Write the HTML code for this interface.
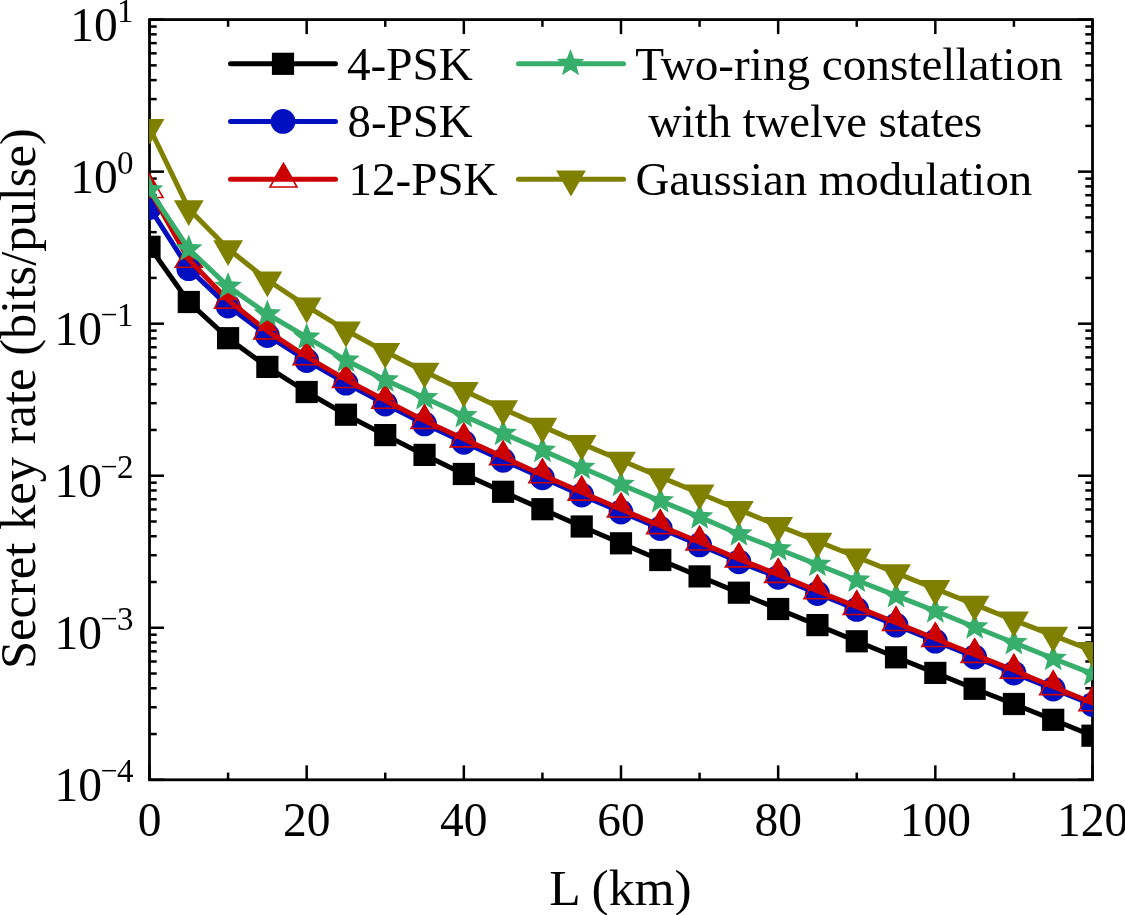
<!DOCTYPE html>
<html><head><meta charset="utf-8"><style>
html,body{margin:0;padding:0;background:#fff;width:1125px;height:915px;overflow:hidden;}
svg{display:block;font-family:"Liberation Serif", serif;will-change:transform;}
</style></head><body>
<svg width="1125" height="915" viewBox="0 0 1125 915">
<rect width="1125" height="915" fill="#fff"/>
<defs><clipPath id="cp"><rect x="149.10" y="19.20" width="943.80" height="761.00"/></clipPath></defs>
<g stroke="#000" stroke-width="2.50"><line x1="149.50" y1="779.80" x2="164.00" y2="779.80"/><line x1="1092.50" y1="779.80" x2="1078.00" y2="779.80"/><line x1="149.50" y1="734.03" x2="156.70" y2="734.03"/><line x1="1092.50" y1="734.03" x2="1085.30" y2="734.03"/><line x1="149.50" y1="707.26" x2="156.70" y2="707.26"/><line x1="1092.50" y1="707.26" x2="1085.30" y2="707.26"/><line x1="149.50" y1="688.26" x2="156.70" y2="688.26"/><line x1="1092.50" y1="688.26" x2="1085.30" y2="688.26"/><line x1="149.50" y1="673.53" x2="156.70" y2="673.53"/><line x1="1092.50" y1="673.53" x2="1085.30" y2="673.53"/><line x1="149.50" y1="661.49" x2="156.70" y2="661.49"/><line x1="1092.50" y1="661.49" x2="1085.30" y2="661.49"/><line x1="149.50" y1="651.31" x2="156.70" y2="651.31"/><line x1="1092.50" y1="651.31" x2="1085.30" y2="651.31"/><line x1="149.50" y1="642.49" x2="156.70" y2="642.49"/><line x1="1092.50" y1="642.49" x2="1085.30" y2="642.49"/><line x1="149.50" y1="634.72" x2="156.70" y2="634.72"/><line x1="1092.50" y1="634.72" x2="1085.30" y2="634.72"/><line x1="149.50" y1="627.76" x2="164.00" y2="627.76"/><line x1="1092.50" y1="627.76" x2="1078.00" y2="627.76"/><line x1="149.50" y1="581.99" x2="156.70" y2="581.99"/><line x1="1092.50" y1="581.99" x2="1085.30" y2="581.99"/><line x1="149.50" y1="555.22" x2="156.70" y2="555.22"/><line x1="1092.50" y1="555.22" x2="1085.30" y2="555.22"/><line x1="149.50" y1="536.22" x2="156.70" y2="536.22"/><line x1="1092.50" y1="536.22" x2="1085.30" y2="536.22"/><line x1="149.50" y1="521.49" x2="156.70" y2="521.49"/><line x1="1092.50" y1="521.49" x2="1085.30" y2="521.49"/><line x1="149.50" y1="509.45" x2="156.70" y2="509.45"/><line x1="1092.50" y1="509.45" x2="1085.30" y2="509.45"/><line x1="149.50" y1="499.27" x2="156.70" y2="499.27"/><line x1="1092.50" y1="499.27" x2="1085.30" y2="499.27"/><line x1="149.50" y1="490.45" x2="156.70" y2="490.45"/><line x1="1092.50" y1="490.45" x2="1085.30" y2="490.45"/><line x1="149.50" y1="482.68" x2="156.70" y2="482.68"/><line x1="1092.50" y1="482.68" x2="1085.30" y2="482.68"/><line x1="149.50" y1="475.72" x2="164.00" y2="475.72"/><line x1="1092.50" y1="475.72" x2="1078.00" y2="475.72"/><line x1="149.50" y1="429.95" x2="156.70" y2="429.95"/><line x1="1092.50" y1="429.95" x2="1085.30" y2="429.95"/><line x1="149.50" y1="403.18" x2="156.70" y2="403.18"/><line x1="1092.50" y1="403.18" x2="1085.30" y2="403.18"/><line x1="149.50" y1="384.18" x2="156.70" y2="384.18"/><line x1="1092.50" y1="384.18" x2="1085.30" y2="384.18"/><line x1="149.50" y1="369.45" x2="156.70" y2="369.45"/><line x1="1092.50" y1="369.45" x2="1085.30" y2="369.45"/><line x1="149.50" y1="357.41" x2="156.70" y2="357.41"/><line x1="1092.50" y1="357.41" x2="1085.30" y2="357.41"/><line x1="149.50" y1="347.23" x2="156.70" y2="347.23"/><line x1="1092.50" y1="347.23" x2="1085.30" y2="347.23"/><line x1="149.50" y1="338.41" x2="156.70" y2="338.41"/><line x1="1092.50" y1="338.41" x2="1085.30" y2="338.41"/><line x1="149.50" y1="330.64" x2="156.70" y2="330.64"/><line x1="1092.50" y1="330.64" x2="1085.30" y2="330.64"/><line x1="149.50" y1="323.68" x2="164.00" y2="323.68"/><line x1="1092.50" y1="323.68" x2="1078.00" y2="323.68"/><line x1="149.50" y1="277.91" x2="156.70" y2="277.91"/><line x1="1092.50" y1="277.91" x2="1085.30" y2="277.91"/><line x1="149.50" y1="251.14" x2="156.70" y2="251.14"/><line x1="1092.50" y1="251.14" x2="1085.30" y2="251.14"/><line x1="149.50" y1="232.14" x2="156.70" y2="232.14"/><line x1="1092.50" y1="232.14" x2="1085.30" y2="232.14"/><line x1="149.50" y1="217.41" x2="156.70" y2="217.41"/><line x1="1092.50" y1="217.41" x2="1085.30" y2="217.41"/><line x1="149.50" y1="205.37" x2="156.70" y2="205.37"/><line x1="1092.50" y1="205.37" x2="1085.30" y2="205.37"/><line x1="149.50" y1="195.19" x2="156.70" y2="195.19"/><line x1="1092.50" y1="195.19" x2="1085.30" y2="195.19"/><line x1="149.50" y1="186.37" x2="156.70" y2="186.37"/><line x1="1092.50" y1="186.37" x2="1085.30" y2="186.37"/><line x1="149.50" y1="178.60" x2="156.70" y2="178.60"/><line x1="1092.50" y1="178.60" x2="1085.30" y2="178.60"/><line x1="149.50" y1="171.64" x2="164.00" y2="171.64"/><line x1="1092.50" y1="171.64" x2="1078.00" y2="171.64"/><line x1="149.50" y1="125.87" x2="156.70" y2="125.87"/><line x1="1092.50" y1="125.87" x2="1085.30" y2="125.87"/><line x1="149.50" y1="99.10" x2="156.70" y2="99.10"/><line x1="1092.50" y1="99.10" x2="1085.30" y2="99.10"/><line x1="149.50" y1="80.10" x2="156.70" y2="80.10"/><line x1="1092.50" y1="80.10" x2="1085.30" y2="80.10"/><line x1="149.50" y1="65.37" x2="156.70" y2="65.37"/><line x1="1092.50" y1="65.37" x2="1085.30" y2="65.37"/><line x1="149.50" y1="53.33" x2="156.70" y2="53.33"/><line x1="1092.50" y1="53.33" x2="1085.30" y2="53.33"/><line x1="149.50" y1="43.15" x2="156.70" y2="43.15"/><line x1="1092.50" y1="43.15" x2="1085.30" y2="43.15"/><line x1="149.50" y1="34.33" x2="156.70" y2="34.33"/><line x1="1092.50" y1="34.33" x2="1085.30" y2="34.33"/><line x1="149.50" y1="26.56" x2="156.70" y2="26.56"/><line x1="1092.50" y1="26.56" x2="1085.30" y2="26.56"/><line x1="149.50" y1="19.60" x2="164.00" y2="19.60"/><line x1="1092.50" y1="19.60" x2="1078.00" y2="19.60"/><line x1="149.50" y1="779.80" x2="149.50" y2="765.30"/><line x1="149.50" y1="19.60" x2="149.50" y2="34.10"/><line x1="306.67" y1="779.80" x2="306.67" y2="765.30"/><line x1="306.67" y1="19.60" x2="306.67" y2="34.10"/><line x1="463.83" y1="779.80" x2="463.83" y2="765.30"/><line x1="463.83" y1="19.60" x2="463.83" y2="34.10"/><line x1="621.00" y1="779.80" x2="621.00" y2="765.30"/><line x1="621.00" y1="19.60" x2="621.00" y2="34.10"/><line x1="778.17" y1="779.80" x2="778.17" y2="765.30"/><line x1="778.17" y1="19.60" x2="778.17" y2="34.10"/><line x1="935.33" y1="779.80" x2="935.33" y2="765.30"/><line x1="935.33" y1="19.60" x2="935.33" y2="34.10"/><line x1="1092.50" y1="779.80" x2="1092.50" y2="765.30"/><line x1="1092.50" y1="19.60" x2="1092.50" y2="34.10"/><line x1="228.08" y1="779.80" x2="228.08" y2="772.60"/><line x1="228.08" y1="19.60" x2="228.08" y2="26.80"/><line x1="385.25" y1="779.80" x2="385.25" y2="772.60"/><line x1="385.25" y1="19.60" x2="385.25" y2="26.80"/><line x1="542.42" y1="779.80" x2="542.42" y2="772.60"/><line x1="542.42" y1="19.60" x2="542.42" y2="26.80"/><line x1="699.58" y1="779.80" x2="699.58" y2="772.60"/><line x1="699.58" y1="19.60" x2="699.58" y2="26.80"/><line x1="856.75" y1="779.80" x2="856.75" y2="772.60"/><line x1="856.75" y1="19.60" x2="856.75" y2="26.80"/><line x1="1013.92" y1="779.80" x2="1013.92" y2="772.60"/><line x1="1013.92" y1="19.60" x2="1013.92" y2="26.80"/></g>
<rect x="149.50" y="19.60" width="943.00" height="760.20" fill="none" stroke="#000" stroke-width="2.80"/>
<g clip-path="url(#cp)"><polyline points="149.50,246.80 188.79,302.00 228.08,338.20 267.38,366.90 306.67,392.00 345.96,414.70 385.25,435.10 424.54,454.90 463.83,474.00 503.12,491.80 542.42,509.20 581.71,526.50 621.00,543.30 660.29,560.00 699.58,576.40 738.88,592.70 778.17,609.00 817.46,625.10 856.75,641.30 896.04,657.30 935.33,672.90 974.62,688.80 1013.92,704.00 1053.21,719.80 1092.50,735.70" fill="none" stroke="#000000" stroke-width="5" stroke-linejoin="round" stroke-linecap="round"/><rect x="138.40" y="235.70" width="22.20" height="22.20" fill="#000000"/><rect x="177.69" y="290.90" width="22.20" height="22.20" fill="#000000"/><rect x="216.98" y="327.10" width="22.20" height="22.20" fill="#000000"/><rect x="256.27" y="355.80" width="22.20" height="22.20" fill="#000000"/><rect x="295.57" y="380.90" width="22.20" height="22.20" fill="#000000"/><rect x="334.86" y="403.60" width="22.20" height="22.20" fill="#000000"/><rect x="374.15" y="424.00" width="22.20" height="22.20" fill="#000000"/><rect x="413.44" y="443.80" width="22.20" height="22.20" fill="#000000"/><rect x="452.73" y="462.90" width="22.20" height="22.20" fill="#000000"/><rect x="492.02" y="480.70" width="22.20" height="22.20" fill="#000000"/><rect x="531.32" y="498.10" width="22.20" height="22.20" fill="#000000"/><rect x="570.61" y="515.40" width="22.20" height="22.20" fill="#000000"/><rect x="609.90" y="532.20" width="22.20" height="22.20" fill="#000000"/><rect x="649.19" y="548.90" width="22.20" height="22.20" fill="#000000"/><rect x="688.48" y="565.30" width="22.20" height="22.20" fill="#000000"/><rect x="727.77" y="581.60" width="22.20" height="22.20" fill="#000000"/><rect x="767.07" y="597.90" width="22.20" height="22.20" fill="#000000"/><rect x="806.36" y="614.00" width="22.20" height="22.20" fill="#000000"/><rect x="845.65" y="630.20" width="22.20" height="22.20" fill="#000000"/><rect x="884.94" y="646.20" width="22.20" height="22.20" fill="#000000"/><rect x="924.23" y="661.80" width="22.20" height="22.20" fill="#000000"/><rect x="963.52" y="677.70" width="22.20" height="22.20" fill="#000000"/><rect x="1002.82" y="692.90" width="22.20" height="22.20" fill="#000000"/><rect x="1042.11" y="708.70" width="22.20" height="22.20" fill="#000000"/><rect x="1081.40" y="724.60" width="22.20" height="22.20" fill="#000000"/><polyline points="149.50,207.50 188.79,268.70 228.08,306.10 267.38,335.50 306.67,360.50 345.96,383.20 385.25,404.10 424.54,423.90 463.83,442.30 503.12,460.30 542.42,477.80 581.71,495.10 621.00,512.00 660.29,528.50 699.58,544.90 738.88,561.80 778.17,577.30 817.46,593.50 856.75,609.40 896.04,625.20 935.33,641.20 974.62,657.00 1013.92,673.10 1053.21,689.00 1092.50,704.60" fill="none" stroke="#0010C0" stroke-width="5" stroke-linejoin="round" stroke-linecap="round"/><circle cx="149.50" cy="207.50" r="12.40" fill="#0010C0"/><circle cx="188.79" cy="268.70" r="12.40" fill="#0010C0"/><circle cx="228.08" cy="306.10" r="12.40" fill="#0010C0"/><circle cx="267.38" cy="335.50" r="12.40" fill="#0010C0"/><circle cx="306.67" cy="360.50" r="12.40" fill="#0010C0"/><circle cx="345.96" cy="383.20" r="12.40" fill="#0010C0"/><circle cx="385.25" cy="404.10" r="12.40" fill="#0010C0"/><circle cx="424.54" cy="423.90" r="12.40" fill="#0010C0"/><circle cx="463.83" cy="442.30" r="12.40" fill="#0010C0"/><circle cx="503.12" cy="460.30" r="12.40" fill="#0010C0"/><circle cx="542.42" cy="477.80" r="12.40" fill="#0010C0"/><circle cx="581.71" cy="495.10" r="12.40" fill="#0010C0"/><circle cx="621.00" cy="512.00" r="12.40" fill="#0010C0"/><circle cx="660.29" cy="528.50" r="12.40" fill="#0010C0"/><circle cx="699.58" cy="544.90" r="12.40" fill="#0010C0"/><circle cx="738.88" cy="561.80" r="12.40" fill="#0010C0"/><circle cx="778.17" cy="577.30" r="12.40" fill="#0010C0"/><circle cx="817.46" cy="593.50" r="12.40" fill="#0010C0"/><circle cx="856.75" cy="609.40" r="12.40" fill="#0010C0"/><circle cx="896.04" cy="625.20" r="12.40" fill="#0010C0"/><circle cx="935.33" cy="641.20" r="12.40" fill="#0010C0"/><circle cx="974.62" cy="657.00" r="12.40" fill="#0010C0"/><circle cx="1013.92" cy="673.10" r="12.40" fill="#0010C0"/><circle cx="1053.21" cy="689.00" r="12.40" fill="#0010C0"/><circle cx="1092.50" cy="704.60" r="12.40" fill="#0010C0"/><polyline points="149.50,189.70 188.79,259.50 228.08,300.30 267.38,331.10 306.67,356.90 345.96,379.70 385.25,400.50 424.54,420.70 463.83,439.10 503.12,456.90 542.42,475.00 581.71,492.30 621.00,509.20 660.29,525.80 699.58,542.20 738.88,559.10 778.17,574.60 817.46,591.00 856.75,606.70 896.04,622.70 935.33,638.70 974.62,654.60 1013.92,670.30 1053.21,686.80 1092.50,703.00" fill="none" stroke="#CC0000" stroke-width="5" stroke-linejoin="round" stroke-linecap="round"/><polygon points="149.50,172.49 159.43,189.70 139.57,189.70" fill="#CC0000"/><polygon points="149.50,174.09 163.02,197.50 135.98,197.50" fill="none" stroke="#CC0000" stroke-width="1.60" stroke-linejoin="miter"/><polygon points="188.79,242.29 198.72,259.50 178.86,259.50" fill="#CC0000"/><polygon points="188.79,243.89 202.31,267.30 175.28,267.30" fill="none" stroke="#CC0000" stroke-width="1.60" stroke-linejoin="miter"/><polygon points="228.08,283.09 238.02,300.30 218.15,300.30" fill="#CC0000"/><polygon points="228.08,284.69 241.60,308.10 214.57,308.10" fill="none" stroke="#CC0000" stroke-width="1.60" stroke-linejoin="miter"/><polygon points="267.38,313.89 277.31,331.10 257.44,331.10" fill="#CC0000"/><polygon points="267.38,315.49 280.89,338.90 253.86,338.90" fill="none" stroke="#CC0000" stroke-width="1.60" stroke-linejoin="miter"/><polygon points="306.67,339.69 316.60,356.90 296.73,356.90" fill="#CC0000"/><polygon points="306.67,341.29 320.18,364.70 293.15,364.70" fill="none" stroke="#CC0000" stroke-width="1.60" stroke-linejoin="miter"/><polygon points="345.96,362.49 355.89,379.70 336.03,379.70" fill="#CC0000"/><polygon points="345.96,364.09 359.47,387.50 332.44,387.50" fill="none" stroke="#CC0000" stroke-width="1.60" stroke-linejoin="miter"/><polygon points="385.25,383.29 395.18,400.50 375.32,400.50" fill="#CC0000"/><polygon points="385.25,384.89 398.77,408.30 371.73,408.30" fill="none" stroke="#CC0000" stroke-width="1.60" stroke-linejoin="miter"/><polygon points="424.54,403.49 434.48,420.70 414.61,420.70" fill="#CC0000"/><polygon points="424.54,405.09 438.06,428.50 411.03,428.50" fill="none" stroke="#CC0000" stroke-width="1.60" stroke-linejoin="miter"/><polygon points="463.83,421.89 473.77,439.10 453.90,439.10" fill="#CC0000"/><polygon points="463.83,423.49 477.35,446.90 450.32,446.90" fill="none" stroke="#CC0000" stroke-width="1.60" stroke-linejoin="miter"/><polygon points="503.12,439.69 513.06,456.90 493.19,456.90" fill="#CC0000"/><polygon points="503.12,441.29 516.64,464.70 489.61,464.70" fill="none" stroke="#CC0000" stroke-width="1.60" stroke-linejoin="miter"/><polygon points="542.42,457.79 552.35,475.00 532.48,475.00" fill="#CC0000"/><polygon points="542.42,459.39 555.93,482.80 528.90,482.80" fill="none" stroke="#CC0000" stroke-width="1.60" stroke-linejoin="miter"/><polygon points="581.71,475.09 591.64,492.30 571.77,492.30" fill="#CC0000"/><polygon points="581.71,476.69 595.22,500.10 568.19,500.10" fill="none" stroke="#CC0000" stroke-width="1.60" stroke-linejoin="miter"/><polygon points="621.00,491.99 630.93,509.20 611.07,509.20" fill="#CC0000"/><polygon points="621.00,493.59 634.52,517.00 607.48,517.00" fill="none" stroke="#CC0000" stroke-width="1.60" stroke-linejoin="miter"/><polygon points="660.29,508.59 670.23,525.80 650.36,525.80" fill="#CC0000"/><polygon points="660.29,510.19 673.81,533.60 646.78,533.60" fill="none" stroke="#CC0000" stroke-width="1.60" stroke-linejoin="miter"/><polygon points="699.58,524.99 709.52,542.20 689.65,542.20" fill="#CC0000"/><polygon points="699.58,526.59 713.10,550.00 686.07,550.00" fill="none" stroke="#CC0000" stroke-width="1.60" stroke-linejoin="miter"/><polygon points="738.88,541.89 748.81,559.10 728.94,559.10" fill="#CC0000"/><polygon points="738.88,543.49 752.39,566.90 725.36,566.90" fill="none" stroke="#CC0000" stroke-width="1.60" stroke-linejoin="miter"/><polygon points="778.17,557.39 788.10,574.60 768.23,574.60" fill="#CC0000"/><polygon points="778.17,558.99 791.68,582.40 764.65,582.40" fill="none" stroke="#CC0000" stroke-width="1.60" stroke-linejoin="miter"/><polygon points="817.46,573.79 827.39,591.00 807.53,591.00" fill="#CC0000"/><polygon points="817.46,575.39 830.97,598.80 803.94,598.80" fill="none" stroke="#CC0000" stroke-width="1.60" stroke-linejoin="miter"/><polygon points="856.75,589.49 866.68,606.70 846.82,606.70" fill="#CC0000"/><polygon points="856.75,591.09 870.27,614.50 843.23,614.50" fill="none" stroke="#CC0000" stroke-width="1.60" stroke-linejoin="miter"/><polygon points="896.04,605.49 905.97,622.70 886.11,622.70" fill="#CC0000"/><polygon points="896.04,607.09 909.56,630.50 882.53,630.50" fill="none" stroke="#CC0000" stroke-width="1.60" stroke-linejoin="miter"/><polygon points="935.33,621.49 945.27,638.70 925.40,638.70" fill="#CC0000"/><polygon points="935.33,623.09 948.85,646.50 921.82,646.50" fill="none" stroke="#CC0000" stroke-width="1.60" stroke-linejoin="miter"/><polygon points="974.62,637.39 984.56,654.60 964.69,654.60" fill="#CC0000"/><polygon points="974.62,638.99 988.14,662.40 961.11,662.40" fill="none" stroke="#CC0000" stroke-width="1.60" stroke-linejoin="miter"/><polygon points="1013.92,653.09 1023.85,670.30 1003.98,670.30" fill="#CC0000"/><polygon points="1013.92,654.69 1027.43,678.10 1000.40,678.10" fill="none" stroke="#CC0000" stroke-width="1.60" stroke-linejoin="miter"/><polygon points="1053.21,669.59 1063.14,686.80 1043.28,686.80" fill="#CC0000"/><polygon points="1053.21,671.19 1066.72,694.60 1039.69,694.60" fill="none" stroke="#CC0000" stroke-width="1.60" stroke-linejoin="miter"/><polygon points="1092.50,685.79 1102.43,703.00 1082.57,703.00" fill="#CC0000"/><polygon points="1092.50,687.39 1106.02,710.80 1078.98,710.80" fill="none" stroke="#CC0000" stroke-width="1.60" stroke-linejoin="miter"/><polyline points="149.50,190.00 188.79,249.00 228.08,286.40 267.38,314.00 306.67,337.20 345.96,360.30 385.25,380.00 424.54,397.80 463.83,415.80 503.12,433.40 542.42,450.40 581.71,467.50 621.00,484.50 660.29,500.90 699.58,516.90 738.88,534.00 778.17,549.00 817.46,564.60 856.75,580.20 896.04,595.70 935.33,611.00 974.62,627.00 1013.92,642.70 1053.21,658.50 1092.50,673.80" fill="none" stroke="#37AE6B" stroke-width="5" stroke-linejoin="round" stroke-linecap="round"/><polygon points="149.50,175.50 153.16,184.96 163.29,185.52 155.43,191.93 158.02,201.73 149.50,196.24 140.98,201.73 143.57,191.93 135.71,185.52 145.84,184.96" fill="#37AE6B"/><polygon points="188.79,234.50 192.46,243.96 202.58,244.52 194.72,250.93 197.31,260.73 188.79,255.24 180.27,260.73 182.86,250.93 175.00,244.52 185.13,243.96" fill="#37AE6B"/><polygon points="228.08,271.90 231.75,281.36 241.87,281.92 234.01,288.33 236.61,298.13 228.08,292.63 219.56,298.13 222.15,288.33 214.29,281.92 224.42,281.36" fill="#37AE6B"/><polygon points="267.38,299.50 271.04,308.96 281.17,309.52 273.30,315.93 275.90,325.73 267.38,320.24 258.85,325.73 261.45,315.93 253.58,309.52 263.71,308.96" fill="#37AE6B"/><polygon points="306.67,322.70 310.33,332.16 320.46,332.72 312.60,339.13 315.19,348.93 306.67,343.44 298.14,348.93 300.74,339.13 292.88,332.72 303.00,332.16" fill="#37AE6B"/><polygon points="345.96,345.80 349.62,355.26 359.75,355.82 351.89,362.23 354.48,372.03 345.96,366.54 337.44,372.03 340.03,362.23 332.17,355.82 342.29,355.26" fill="#37AE6B"/><polygon points="385.25,365.50 388.91,374.96 399.04,375.52 391.18,381.93 393.77,391.73 385.25,386.24 376.73,391.73 379.32,381.93 371.46,375.52 381.59,374.96" fill="#37AE6B"/><polygon points="424.54,383.30 428.21,392.76 438.33,393.32 430.47,399.73 433.06,409.53 424.54,404.04 416.02,409.53 418.61,399.73 410.75,393.32 420.88,392.76" fill="#37AE6B"/><polygon points="463.83,401.30 467.50,410.76 477.62,411.32 469.76,417.73 472.36,427.53 463.83,422.04 455.31,427.53 457.90,417.73 450.04,411.32 460.17,410.76" fill="#37AE6B"/><polygon points="503.12,418.90 506.79,428.36 516.92,428.92 509.05,435.33 511.65,445.13 503.12,439.63 494.60,445.13 497.20,435.33 489.33,428.92 499.46,428.36" fill="#37AE6B"/><polygon points="542.42,435.90 546.08,445.36 556.21,445.92 548.35,452.33 550.94,462.13 542.42,456.63 533.89,462.13 536.49,452.33 528.63,445.92 538.75,445.36" fill="#37AE6B"/><polygon points="581.71,453.00 585.37,462.46 595.50,463.02 587.64,469.43 590.23,479.23 581.71,473.74 573.19,479.23 575.78,469.43 567.92,463.02 578.04,462.46" fill="#37AE6B"/><polygon points="621.00,470.00 624.66,479.46 634.79,480.02 626.93,486.43 629.52,496.23 621.00,490.74 612.48,496.23 615.07,486.43 607.21,480.02 617.34,479.46" fill="#37AE6B"/><polygon points="660.29,486.40 663.96,495.86 674.08,496.42 666.22,502.83 668.81,512.63 660.29,507.13 651.77,512.63 654.36,502.83 646.50,496.42 656.63,495.86" fill="#37AE6B"/><polygon points="699.58,502.40 703.25,511.86 713.37,512.42 705.51,518.83 708.11,528.63 699.58,523.13 691.06,528.63 693.65,518.83 685.79,512.42 695.92,511.86" fill="#37AE6B"/><polygon points="738.88,519.50 742.54,528.96 752.67,529.52 744.80,535.93 747.40,545.73 738.88,540.24 730.35,545.73 732.95,535.93 725.08,529.52 735.21,528.96" fill="#37AE6B"/><polygon points="778.17,534.50 781.83,543.96 791.96,544.52 784.10,550.93 786.69,560.73 778.17,555.24 769.64,560.73 772.24,550.93 764.38,544.52 774.50,543.96" fill="#37AE6B"/><polygon points="817.46,550.10 821.12,559.56 831.25,560.12 823.39,566.53 825.98,576.33 817.46,570.84 808.94,576.33 811.53,566.53 803.67,560.12 813.79,559.56" fill="#37AE6B"/><polygon points="856.75,565.70 860.41,575.16 870.54,575.72 862.68,582.13 865.27,591.93 856.75,586.44 848.23,591.93 850.82,582.13 842.96,575.72 853.09,575.16" fill="#37AE6B"/><polygon points="896.04,581.20 899.71,590.66 909.83,591.22 901.97,597.63 904.56,607.43 896.04,601.94 887.52,607.43 890.11,597.63 882.25,591.22 892.38,590.66" fill="#37AE6B"/><polygon points="935.33,596.50 939.00,605.96 949.12,606.52 941.26,612.93 943.86,622.73 935.33,617.24 926.81,622.73 929.40,612.93 921.54,606.52 931.67,605.96" fill="#37AE6B"/><polygon points="974.62,612.50 978.29,621.96 988.42,622.52 980.55,628.93 983.15,638.73 974.62,633.24 966.10,638.73 968.70,628.93 960.83,622.52 970.96,621.96" fill="#37AE6B"/><polygon points="1013.92,628.20 1017.58,637.66 1027.71,638.22 1019.85,644.63 1022.44,654.43 1013.92,648.94 1005.39,654.43 1007.99,644.63 1000.13,638.22 1010.25,637.66" fill="#37AE6B"/><polygon points="1053.21,644.00 1056.87,653.46 1067.00,654.02 1059.14,660.43 1061.73,670.23 1053.21,664.74 1044.69,670.23 1047.28,660.43 1039.42,654.02 1049.54,653.46" fill="#37AE6B"/><polygon points="1092.50,659.30 1096.16,668.76 1106.29,669.32 1098.43,675.73 1101.02,685.53 1092.50,680.03 1083.98,685.53 1086.57,675.73 1078.71,669.32 1088.84,668.76" fill="#37AE6B"/><polyline points="149.50,127.60 188.79,208.90 228.08,248.80 267.38,280.00 306.67,306.20 345.96,330.20 385.25,351.60 424.54,371.40 463.83,390.60 503.12,408.90 542.42,426.40 581.71,443.60 621.00,460.30 660.29,476.90 699.58,493.20 738.88,509.60 778.17,525.60 817.46,541.30 856.75,557.00 896.04,572.90 935.33,588.70 974.62,604.40 1013.92,620.20 1053.21,635.30 1092.50,650.70" fill="none" stroke="#808000" stroke-width="5" stroke-linejoin="round" stroke-linecap="round"/><polygon points="134.60,119.00 164.40,119.00 149.50,144.81" fill="#808000"/><polygon points="173.89,200.30 203.69,200.30 188.79,226.11" fill="#808000"/><polygon points="213.18,240.20 242.98,240.20 228.08,266.01" fill="#808000"/><polygon points="252.47,271.40 282.27,271.40 267.38,297.21" fill="#808000"/><polygon points="291.77,297.60 321.57,297.60 306.67,323.41" fill="#808000"/><polygon points="331.06,321.60 360.86,321.60 345.96,347.41" fill="#808000"/><polygon points="370.35,343.00 400.15,343.00 385.25,368.81" fill="#808000"/><polygon points="409.64,362.80 439.44,362.80 424.54,388.61" fill="#808000"/><polygon points="448.93,382.00 478.73,382.00 463.83,407.81" fill="#808000"/><polygon points="488.23,400.30 518.02,400.30 503.12,426.11" fill="#808000"/><polygon points="527.52,417.80 557.32,417.80 542.42,443.61" fill="#808000"/><polygon points="566.81,435.00 596.61,435.00 581.71,460.81" fill="#808000"/><polygon points="606.10,451.70 635.90,451.70 621.00,477.51" fill="#808000"/><polygon points="645.39,468.30 675.19,468.30 660.29,494.11" fill="#808000"/><polygon points="684.68,484.60 714.48,484.60 699.58,510.41" fill="#808000"/><polygon points="723.98,501.00 753.77,501.00 738.88,526.81" fill="#808000"/><polygon points="763.27,517.00 793.07,517.00 778.17,542.81" fill="#808000"/><polygon points="802.56,532.70 832.36,532.70 817.46,558.51" fill="#808000"/><polygon points="841.85,548.40 871.65,548.40 856.75,574.21" fill="#808000"/><polygon points="881.14,564.30 910.94,564.30 896.04,590.11" fill="#808000"/><polygon points="920.43,580.10 950.23,580.10 935.33,605.91" fill="#808000"/><polygon points="959.73,595.80 989.52,595.80 974.62,621.61" fill="#808000"/><polygon points="999.02,611.60 1028.82,611.60 1013.92,637.41" fill="#808000"/><polygon points="1038.31,626.70 1068.11,626.70 1053.21,652.51" fill="#808000"/><polygon points="1077.60,642.10 1107.40,642.10 1092.50,667.91" fill="#808000"/></g>
<g font-family="Liberation Serif, serif" fill="#000"><text x="54.42" y="800.90" font-size="47.5">10</text><text x="117.1" y="781.90" font-size="33">4</text><rect x="102.1" y="769.95" width="14" height="1.5"/><text x="54.42" y="648.86" font-size="47.5">10</text><text x="117.1" y="629.86" font-size="33">3</text><rect x="102.1" y="617.91" width="14" height="1.5"/><text x="54.42" y="496.82" font-size="47.5">10</text><text x="117.1" y="477.82" font-size="33">2</text><rect x="102.1" y="465.87" width="14" height="1.5"/><text x="54.42" y="344.78" font-size="47.5">10</text><text x="117.1" y="325.78" font-size="33">1</text><rect x="102.1" y="313.83" width="14" height="1.5"/><text x="70.17" y="192.74" font-size="47.5">10</text><text x="117.1" y="173.74" font-size="33">0</text><text x="70.17" y="40.70" font-size="47.5">10</text><text x="117.1" y="21.70" font-size="33">1</text><text x="149.50" y="835.5" text-anchor="middle" font-size="47.5">0</text><text x="306.67" y="835.5" text-anchor="middle" font-size="47.5">20</text><text x="463.83" y="835.5" text-anchor="middle" font-size="47.5">40</text><text x="621.00" y="835.5" text-anchor="middle" font-size="47.5">60</text><text x="778.17" y="835.5" text-anchor="middle" font-size="47.5">80</text><text x="935.33" y="835.5" text-anchor="middle" font-size="47.5">100</text><text x="1092.50" y="835.5" text-anchor="middle" font-size="47.5">120</text></g>
<text x="620.4" y="904.5" text-anchor="middle" font-family="Liberation Serif, serif" font-size="51.5">L (km)</text>
<text transform="translate(35.3,398.6) rotate(-90)" text-anchor="middle" font-family="Liberation Serif, serif" font-size="50.6">Secret key rate (bits/pulse)</text>
<line x1="230.50" y1="63.80" x2="335.50" y2="63.80" stroke="#000000" stroke-width="5" stroke-linecap="round"/><rect x="271.90" y="52.70" width="22.20" height="22.20" fill="#000000"/><text x="347.00" y="79.80" font-family="Liberation Serif, serif" font-size="47" textLength="125.88" lengthAdjust="spacingAndGlyphs" xml:space="preserve">4-PSK</text><line x1="230.50" y1="121.40" x2="335.50" y2="121.40" stroke="#0010C0" stroke-width="5" stroke-linecap="round"/><circle cx="283.00" cy="121.40" r="12.40" fill="#0010C0"/><text x="347.60" y="137.40" font-family="Liberation Serif, serif" font-size="47" textLength="125.00" lengthAdjust="spacingAndGlyphs" xml:space="preserve">8-PSK</text><line x1="230.50" y1="179.20" x2="335.50" y2="179.20" stroke="#CC0000" stroke-width="5" stroke-linecap="round"/><polygon points="283.50,161.99 293.43,179.20 273.57,179.20" fill="#CC0000"/><polygon points="283.50,163.59 297.02,187.00 269.98,187.00" fill="none" stroke="#CC0000" stroke-width="1.60" stroke-linejoin="miter"/><text x="348.60" y="195.20" font-family="Liberation Serif, serif" font-size="47" textLength="148.88" lengthAdjust="spacingAndGlyphs" xml:space="preserve">12-PSK</text><line x1="518.50" y1="63.80" x2="623.50" y2="63.80" stroke="#37AE6B" stroke-width="5" stroke-linecap="round"/><polygon points="570.50,49.00 574.16,58.46 584.29,59.02 576.43,65.43 579.02,75.23 570.50,69.73 561.98,75.23 564.57,65.43 556.71,59.02 566.84,58.46" fill="#37AE6B"/><text x="635.20" y="79.80" font-family="Liberation Serif, serif" font-size="47" textLength="427.65" lengthAdjust="spacingAndGlyphs" xml:space="preserve">Two-ring constellation</text><text x="636.50" y="137.40" font-family="Liberation Serif, serif" font-size="47" textLength="345.73" lengthAdjust="spacingAndGlyphs" xml:space="preserve"> with twelve states</text><line x1="518.50" y1="179.20" x2="623.50" y2="179.20" stroke="#808000" stroke-width="5" stroke-linecap="round"/><polygon points="556.10,170.60 585.90,170.60 571.00,196.41" fill="#808000"/><text x="635.40" y="195.20" font-family="Liberation Serif, serif" font-size="47" textLength="396.84" lengthAdjust="spacingAndGlyphs" xml:space="preserve">Gaussian modulation</text>
</svg>
</body></html>
